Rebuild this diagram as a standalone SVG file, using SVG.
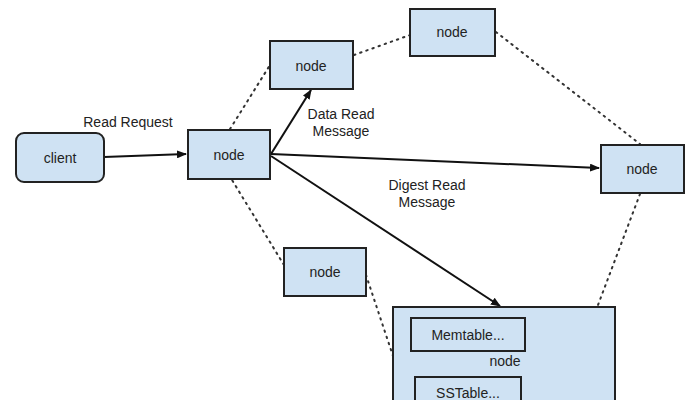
<svg xmlns="http://www.w3.org/2000/svg" width="698" height="400" viewBox="0 0 698 400">
<style>
.n{fill:#cfe2f3;stroke:#222;stroke-width:2}
.t{font-family:"Liberation Sans",Arial,sans-serif;font-size:14px;fill:#222;text-anchor:middle}
.l{font-family:"Liberation Sans",Arial,sans-serif;font-size:14px;fill:#222;text-anchor:middle}
.c{stroke:#111;stroke-width:2;fill:none}
.d{stroke:#333;stroke-width:2;fill:none;stroke-dasharray:1.5 5;stroke-linecap:round}
</style>
<defs><marker id="a" markerWidth="10" markerHeight="8" refX="9" refY="4" orient="auto" markerUnits="userSpaceOnUse"><path d="M0,0L10,4L0,8z" fill="#111"/></marker></defs>
<rect width="698" height="400" fill="#fff"/>
<g id="connectors">
<path class="d" d="M230,129L270,65"/>
<path class="d" d="M354,55L410,35"/>
<path class="d" d="M496,32L640,144"/>
<path class="d" d="M640,194L598,305"/>
<path class="d" d="M366,275L393,356"/>
<path class="d" d="M284,265L232,180"/>
<path class="c" marker-end="url(#a)" d="M104,157L186,154"/>
<path class="c" marker-end="url(#a)" d="M271,154L311,90"/>
<path class="c" marker-end="url(#a)" d="M271,154L599,168"/>
<path class="c" marker-end="url(#a)" d="M271,156L500,306"/>
<text class="l" x="128" y="127">Read Request</text>
<text class="l" x="341" y="119">Data Read</text>
<text class="l" x="341" y="136">Message</text>
<text class="l" x="427" y="190">Digest Read</text>
<text class="l" x="427" y="207">Message</text>
</g>
<g id="client"><rect class="n" x="16" y="133" width="88" height="49" rx="8"/><text class="t" x="60" y="163">client</text></g>
<g id="node-main"><rect class="n" x="188" y="130" width="82" height="49"/><text class="t" x="229" y="160">node</text></g>
<g id="node-tl"><rect class="n" x="270" y="41" width="83" height="48"/><text class="t" x="311" y="71">node</text></g>
<g id="node-top"><rect class="n" x="410" y="9" width="85" height="47"/><text class="t" x="452" y="37">node</text></g>
<g id="node-right"><rect class="n" x="601" y="145" width="83" height="48"/><text class="t" x="642" y="174">node</text></g>
<g id="node-low"><rect class="n" x="284" y="248" width="82" height="48"/><text class="t" x="325" y="277">node</text></g>
<g id="node-big"><rect class="n" x="393" y="307" width="222" height="100"/>
<rect class="n" x="411" y="318" width="114" height="33"/><text class="t" x="468" y="340">Memtable...</text>
<text class="t" x="505" y="366">node</text>
<rect class="n" x="415" y="377" width="106" height="33"/><text class="t" x="468" y="398">SSTable...</text></g>
</svg>
